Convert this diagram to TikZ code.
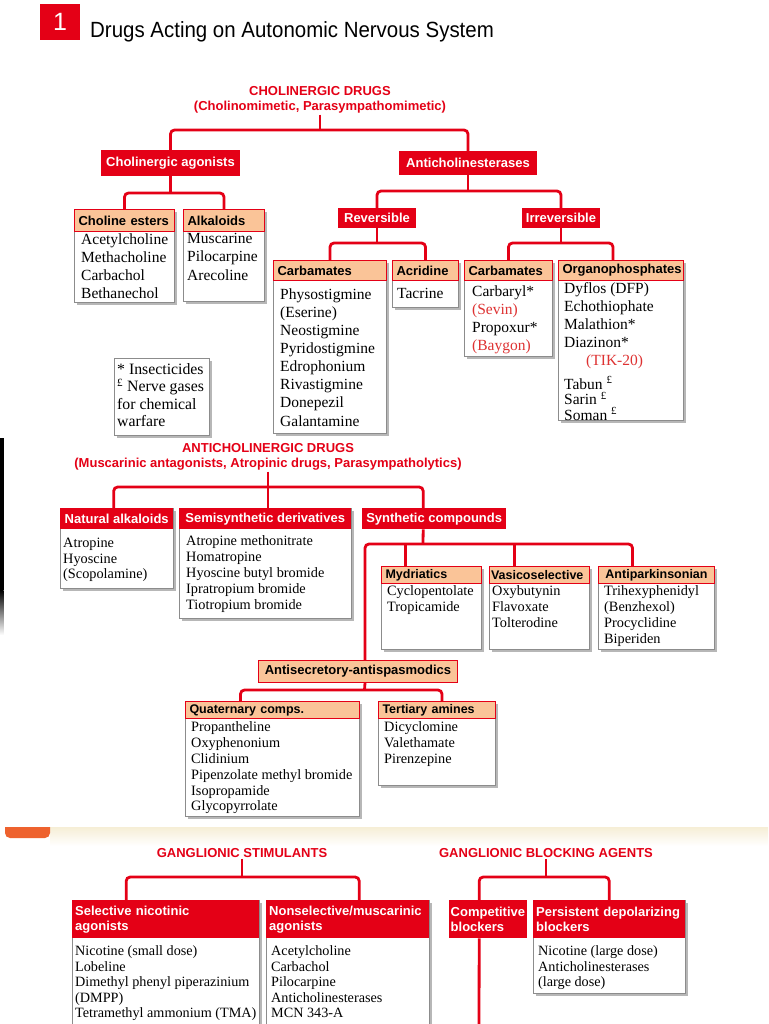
\documentclass[tikz,border=0pt]{standalone}
\usepackage{fontspec}
\setmainfont{Liberation Serif}
\setsansfont{Liberation Sans}
\usetikzlibrary{shadows}

\definecolor{ansred}{RGB}{228,0,22}
\definecolor{peach}{RGB}{250,196,152}
\definecolor{notered}{RGB}{222,50,50}
\definecolor{tabor}{RGB}{238,98,46}
\definecolor{band}{RGB}{246,238,214}

\newcommand\hdrfont{\sffamily\bfseries\fontsize{13}{15}\selectfont}
\newcommand\hdrsmall{\sffamily\bfseries\fontsize{12.5}{14}\selectfont}
\newcommand\lista{\fontsize{15.5}{18.1}\selectfont}
\newcommand\listb{\fontsize{14.3}{15.8}\selectfont}
\newcommand\listc{\fontsize{14.2}{15.5}\selectfont}
\hyphenpenalty=10000
\exhyphenpenalty=10000

\tikzset{
  link/.style={draw=ansred, line width=2.8pt, rounded corners=4pt},
  grouptitle/.style={text=ansred, font=\hdrfont, align=center, inner sep=1pt},
  redhdr/.style={fill=ansred, text=white, font=\hdrfont, inner sep=2pt},
  peachhdr/.style={fill=peach, draw=ansred, line width=1pt, font=\hdrfont,
    anchor=north west, align=left, inner xsep=4pt, inner ysep=1pt},
  listbox/.style={draw=black!45, line width=.8pt, fill=white, anchor=north west,
    drop shadow={shadow xshift=2.5pt, shadow yshift=-2.5pt, fill=black!35, opacity=.8}},
  items/.style={anchor=north west, align=left, inner sep=0pt},
}

\begin{document}
\begin{tikzpicture}[x=1pt, y=-1pt]
  \useasboundingbox (0,0) rectangle (768,1024);
  \fill[white] (0,0) rectangle (768,1024);

  % page edge and next page header
  \fill[black] (0,438) rectangle (3.5,590);
  \shade[top color=black, bottom color=white] (0,590) rectangle (3.5,635);
  \shade[top color=band, bottom color=white] (50,827) rectangle (768,846);
  \fill[tabor] (5,827) -- (50,827) [rounded corners=5pt] -- (50,838) -- (5,838) [sharp corners] -- cycle;

  % title
  \node[fill=ansred, text=white, minimum width=40pt, minimum height=36pt, inner sep=0pt,
    font=\sffamily\fontsize{25}{25}\selectfont] (num) at (60,22) {1};
  \node[anchor=base west, inner sep=0pt, font=\sffamily\fontsize{22}{24}\selectfont] (title)
    at (90,38) {\scalebox{0.93}[1]{Drugs Acting on Autonomic Nervous System}};

  % cholinergic drugs
  \node[grouptitle] (cd) at (320,100) {CHOLINERGIC DRUGS\\(Cholinomimetic, Parasympathomimetic)};
  \node[redhdr, minimum width=139pt, minimum height=26pt] (ag) at (170.5,163) {Cholinergic agonists};
  \node[redhdr, minimum width=138pt, minimum height=24pt] (ach) at (468,163) {Anticholinesterases};
  \node[redhdr, minimum width=78pt, minimum height=20pt] (rev) at (377,218) {Reversible};
  \node[redhdr, minimum width=78pt, minimum height=20pt] (irr) at (561,218) {Irreversible};

  \node[listbox, minimum width=100pt, minimum height=93pt] (ce-b) at (74,209) {};
  \node[peachhdr, text width=92pt, minimum height=22pt] (ce) at (74,209) {Choline esters};
  \node[items, font=\lista] (ce-l) at (81,233.4) {Acetylcholine\\Methacholine\\Carbachol\\Bethanechol};

  \node[listbox, minimum width=81pt, minimum height=92pt] (al-b) at (183,209) {};
  \node[peachhdr, text width=73pt, minimum height=22pt] (al) at (183,209) {Alkaloids};
  \node[items, font=\lista] (al-l) at (187,233.4) {Muscarine\\Pilocarpine\\Arecoline};

  \node[listbox, minimum width=113pt, minimum height=173pt] (rc-b) at (273,260) {};
  \node[peachhdr, text width=105pt, minimum height=20pt] (rc) at (273,260) {Carbamates};
  \node[items, font=\lista] (rc-l) at (280,288.4) {Physostigmine\\(Eserine)\\Neostigmine\\Pyridostigmine\\Edrophonium\\Rivastigmine\\Donepezil\\Galantamine};

  \node[listbox, minimum width=66pt, minimum height=47pt] (acr-b) at (392,260) {};
  \node[peachhdr, text width=58pt, minimum height=20pt] (acr) at (392,260) {Acridine};
  \node[items, font=\lista] (acr-l) at (397,288.4) {Tacrine};

  \node[listbox, minimum width=88pt, minimum height=96pt] (ic-b) at (464,260) {};
  \node[peachhdr, text width=80pt, minimum height=20pt] (ic) at (464,260) {Carbamates};
  \node[items, font=\lista] (ic-l) at (472,285.4) {Carbaryl*\\{\color{notered}(Sevin)}\\Propoxur*\\{\color{notered}(Baygon)}};

  \node[listbox, minimum width=125pt, minimum height=160pt] (op-b) at (558,260) {};
  \node[peachhdr, text width=117pt, minimum height=20pt] (op) at (558,260) {Organophosphates};
  \node[items, font=\lista] (op-l) at (564,282.4) {Dyflos (DFP)\\Echothiophate\\Malathion*\\Diazinon*};
  \node[items, font=\lista, text=notered] (op-r) at (586,354.4) {(TIK-20)};
  \node[items, font=\fontsize{15.5}{15.6}\selectfont] (op-g) at (564,376.4) {Tabun \textsuperscript{£}\\Sarin \textsuperscript{£}\\Soman \textsuperscript{£}};

  \node[listbox, minimum width=95pt, minimum height=77pt] (fn-b) at (114,358) {};
  \node[items, font=\fontsize{15.8}{17.5}\selectfont] (fn-l) at (117,363.2) {* Insecticides\\\textsuperscript{£} Nerve gases\\for chemical\\warfare};

  \coordinate (cd-bar) at (320,130);
  \coordinate (ag-bar) at (170.5,193);
  \coordinate (ach-bar) at (468,191);
  \coordinate (rev-bar) at (377,243);
  \coordinate (irr-bar) at (561,243);
  \draw[link] (cd.south) -- (cd-bar);
  \draw[link] (ag.north) |- (cd-bar) -| (ach.north);
  \draw[link] (ag.south) -- (ag-bar);
  \draw[link] (ce.north) |- (ag-bar) -| (al.north);
  \draw[link] (ach.south) -- (ach-bar);
  \draw[link] (rev.north) |- (ach-bar) -| (irr.north);
  \draw[link] (rev.south) -- (rev-bar);
  \draw[link] (rc.north) |- (rev-bar) -| (acr.north);
  \draw[link] (irr.south) -- (irr-bar);
  \draw[link] (ic.north) |- (irr-bar) -| ([xshift=-8pt]op.north);

  % anticholinergic drugs
  \node[grouptitle] (acd) at (268,457) {ANTICHOLINERGIC DRUGS\\(Muscarinic antagonists, Atropinic drugs, Parasympatholytics)};

  \node[listbox, minimum width=113pt, minimum height=80pt] (na-b) at (60,508) {};
  \node[redhdr, anchor=north west, minimum width=113pt, minimum height=21pt] (na) at (60,508) {Natural alkaloids};
  \node[items, font=\listb] (na-l) at (63,537.7) {Atropine\\Hyoscine\\(Scopolamine)};

  \node[listbox, minimum width=172pt, minimum height=110pt] (sem-b) at (179,508) {};
  \node[redhdr, anchor=north west, minimum width=172pt, minimum height=21pt] (sem) at (179,508) {Semisynthetic derivatives};
  \node[items, font=\listb] (sem-l) at (186,535.7) {Atropine methonitrate\\Homatropine\\Hyoscine butyl bromide\\Ipratropium bromide\\Tiotropium bromide};

  \node[redhdr, anchor=north west, minimum width=144pt, minimum height=21pt] (syn) at (362,508) {Synthetic compounds};

  \node[listbox, minimum width=100pt, minimum height=83pt] (myd-b) at (381,566) {};
  \node[peachhdr, font=\hdrsmall, text width=92pt, minimum height=17pt] (myd) at (381,566) {Mydriatics};
  \node[items, font=\listb] (myd-l) at (387,585.7) {Cyclopentolate\\Tropicamide};

  \node[listbox, minimum width=100pt, minimum height=83pt] (vas-b) at (489,566) {};
  \node[peachhdr, font=\hdrsmall, inner xsep=1.5pt, text width=97pt, minimum height=17pt] (vas) at (489,566) {Vasicoselective};
  \node[items, font=\listb] (vas-l) at (492,585.7) {Oxybutynin\\Flavoxate\\Tolterodine};

  \node[listbox, minimum width=116pt, minimum height=83pt] (apk-b) at (598,566) {};
  \node[peachhdr, font=\hdrsmall, align=center, text width=108pt, minimum height=17pt] (apk) at (598,566) {Antiparkinsonian};
  \node[items, font=\listb] (apk-l) at (604,585.7) {Trihexyphenidyl\\(Benzhexol)\\Procyclidine\\Biperiden};

  \node[peachhdr, align=center, text width=191pt, minimum height=22pt] (as) at (258,660) {Antisecretory-antispasmodics};

  \node[listbox, minimum width=174pt, minimum height=115pt] (qc-b) at (185,701) {};
  \node[peachhdr, font=\hdrsmall, text width=166pt, minimum height=17pt] (qc) at (185,701) {Quaternary comps.};
  \node[items, font=\listb] (qc-l) at (191,721.7) {Propantheline\\Oxyphenonium\\Clidinium\\Pipenzolate methyl bromide\\Isopropamide\\Glycopyrrolate};

  \node[listbox, minimum width=117pt, minimum height=84pt] (ta-b) at (378,701) {};
  \node[peachhdr, font=\hdrsmall, text width=109pt, minimum height=17pt] (ta) at (378,701) {Tertiary amines};
  \node[items, font=\listb] (ta-l) at (384,721.7) {Dicyclomine\\Valethamate\\Pirenzepine};

  \coordinate (acd-bar) at (268,487);
  \coordinate (syn-bar) at (423,544);
  \coordinate (as-bar) at (364.5,690);
  \draw[link] (acd.south) -- (acd.south |- sem.north);
  \draw[link] ([xshift=-3pt]na.north) |- (acd-bar) -| ([xshift=-11pt]syn.north);
  \draw[link] ([xshift=-11pt]syn.south) -- (syn-bar);
  \draw[link] ([xshift=7pt]as.north) |- (syn-bar) -| ([xshift=-24pt]apk.north);
  \draw[link] ([xshift=-26pt]myd.north) -- ++(0,-22);
  \draw[link] ([xshift=-25pt]vas.north) -- ++(0,-22);
  \draw[link] ([xshift=7pt]as.south) -- (as-bar);
  \draw[link] ([xshift=-32pt]qc.north) |- (as-bar) -| ([xshift=5pt]ta.north);

  % ganglionic drugs
  \node[grouptitle] (gs) at (242,853) {GANGLIONIC STIMULANTS};
  \node[grouptitle] (gb) at (546,853) {GANGLIONIC BLOCKING AGENTS};

  \node[listbox, minimum width=187pt, minimum height=130pt] (sel-b) at (72,900) {};
  \node[redhdr, anchor=north west, align=left, inner xsep=3pt, text width=181pt, minimum height=38pt] (sel) at (72,900) {Selective nicotinic\\agonists};
  \node[items, font=\listc] (sel-l) at (75,945.8) {Nicotine (small dose)\\Lobeline\\Dimethyl phenyl piperazinium\\(DMPP)\\Tetramethyl ammonium (TMA)};

  \node[listbox, minimum width=163pt, minimum height=130pt] (nsel-b) at (266,900) {};
  \node[redhdr, anchor=north west, align=left, inner xsep=3pt, text width=157pt, minimum height=38pt] (nsel) at (266,900) {Nonselective/muscarinic\\agonists};
  \node[items, font=\listc] (nsel-l) at (271,945.8) {Acetylcholine\\Carbachol\\Pilocarpine\\Anticholinesterases\\MCN 343-A};

  \node[redhdr, anchor=north west, align=left, inner xsep=1.5pt, text width=75pt, minimum height=38pt] (comp) at (449,900) {Competitive\\blockers};

  \node[listbox, minimum width=152pt, minimum height=93pt] (per-b) at (533,900) {};
  \node[redhdr, anchor=north west, align=left, inner xsep=3pt, text width=146pt, minimum height=38pt] (per) at (533,900) {Persistent depolarizing\\blockers};
  \node[items, font=\listc] (per-l) at (538,945.8) {Nicotine (large dose)\\Anticholinesterases\\(large dose)};

  \coordinate (gs-bar) at (242,877);
  \coordinate (gb-bar) at (546,877);
  \coordinate (comp-end) at (479,1030);
  \draw[link] (gs.south) -- (gs-bar);
  \draw[link] ([xshift=-39.5pt]sel.north) |- (gs-bar) -| ([xshift=11.5pt]nsel.north);
  \draw[link] (gb.south) -- (gb-bar);
  \draw[link] ([xshift=-9pt]comp.north) |- (gb-bar) -| (per.north);
  \draw[link] ([xshift=-9pt]comp.south) -- (comp-end);
\end{tikzpicture}
\end{document}
